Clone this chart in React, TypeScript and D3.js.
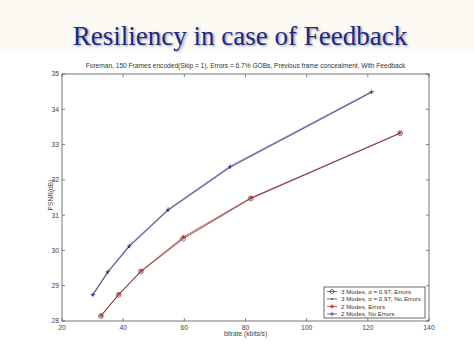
import React from "react";
import * as d3 from "d3";

const xTicks = [20, 40, 60, 80, 100, 120, 140];
const yTicks = [28, 29, 30, 31, 32, 33, 34, 35];

const errBitrate3 = [32.7, 38.5, 45.8, 59.6, 81.7, 130.6];
const errPsnr3 = [28.14, 28.74, 29.4, 30.33, 31.47, 33.32];
const noErrBitrate3 = [30, 34.9, 41.9, 54.6, 74.9, 121.2];
const noErrPsnr3 = [28.73, 29.37, 30.1, 31.13, 32.35, 34.48];
const errBitrate2 = [32.8, 38.6, 45.9, 59.7, 81.8, 130.5];
const errPsnr2 = [28.15, 28.76, 29.42, 30.38, 31.49, 33.33];
const noErrBitrate2 = [30.1, 35.0, 42.0, 54.7, 75.0, 121.3];
const noErrPsnr2 = [28.75, 29.4, 30.13, 31.16, 32.38, 34.5];

const legendLabels = [
  "3 Modes, \u03b1 = 0.97, Errors",
  "3 Modes, \u03b1 = 0.97, No Errors",
  "2 Modes, Errors",
  "2 Modes, No Errors",
];

const L = 62, R = 429, T = 74, B = 321;

export default function App() {
  const x = d3.scaleLinear().domain([20, 140]).range([L, R]);
  const y = d3.scaleLinear().domain([28, 35]).range([B, T]);
  const line = d3
    .line<[number, number]>()
    .x((d) => x(d[0]))
    .y((d) => y(d[1]));
  const pts = (xs: number[], ys: number[]) => xs.map((v, i) => [v, ys[i]] as [number, number]);

  const s3e = pts(errBitrate3, errPsnr3);
  const s3n = pts(noErrBitrate3, noErrPsnr3);
  const s2e = pts(errBitrate2, errPsnr2);
  const s2n = pts(noErrBitrate2, noErrPsnr2);

  const font = "Arial, 'Liberation Sans', sans-serif";
  const plus = (cx: number, cy: number, c: string, k: string) => (
    <g key={k} stroke={c} strokeWidth={0.7}>
      <line x1={cx - 2.3} x2={cx + 2.3} y1={cy} y2={cy} />
      <line x1={cx} x2={cx} y1={cy - 2.3} y2={cy + 2.3} />
    </g>
  );
  const star = (cx: number, cy: number, c: string, k: string) => (
    <g key={k} stroke={c} strokeWidth={0.7}>
      <line x1={cx - 2.3} x2={cx + 2.3} y1={cy} y2={cy} />
      <line x1={cx} x2={cx} y1={cy - 2.3} y2={cy + 2.3} />
      <line x1={cx - 1.6} x2={cx + 1.6} y1={cy - 1.6} y2={cy + 1.6} />
      <line x1={cx - 1.6} x2={cx + 1.6} y1={cy + 1.6} y2={cy - 1.6} />
    </g>
  );

  const legX = 324, legY = 287, legW = 101, legH = 31;
  const rowY = [291.5, 299, 306.5, 314];

  return (
    <svg width={474} height={355} style={{ position: "absolute", left: 0, top: 0 }}>
      <defs>
        <filter id="blur" x="-5%" y="-20%" width="110%" height="140%">
          <feGaussianBlur stdDeviation={0.8} />
        </filter>
      </defs>
      <rect x={0} y={0} width={474} height={355} fill="#ffffff" />
      <rect x={0} y={0} width={474} height={52} fill="#fcfaf2" />
      <text x={241.5} y={46} textAnchor="middle" fontFamily="'Liberation Serif', 'Times New Roman', serif" fontSize={27} fill="#9a9aa8" filter="url(#blur)">
        Resiliency in case of Feedback
      </text>
      <text x={240} y={44.5} textAnchor="middle" fontFamily="'Liberation Serif', 'Times New Roman', serif" fontSize={27} fill="#1b2a86">
        Resiliency in case of Feedback
      </text>

      <text x={(L + R) / 2} y={68} textAnchor="middle" fontFamily={font} fontSize={6.6} fill="#333">
        Foreman, 150 Frames encoded(Skip = 1), Errors = 6.7% GOBs, Previous frame concealment, With Feedback
      </text>

      <rect x={L} y={T} width={R - L} height={B - T} fill="none" stroke="#555" strokeWidth={0.8} />
      {xTicks.map((t) => (
        <g key={"x" + t}>
          <line x1={x(t)} x2={x(t)} y1={B} y2={B - 3} stroke="#555" strokeWidth={0.7} />
          <line x1={x(t)} x2={x(t)} y1={T} y2={T + 3} stroke="#555" strokeWidth={0.7} />
          <text x={x(t)} y={B + 9} textAnchor="middle" fontFamily={font} fontSize={6.8} fill="#444">
            {t}
          </text>
        </g>
      ))}
      {yTicks.map((t) => (
        <g key={"y" + t}>
          <line x1={L} x2={L + 3} y1={y(t)} y2={y(t)} stroke="#555" strokeWidth={0.7} />
          <line x1={R} x2={R - 3} y1={y(t)} y2={y(t)} stroke="#555" strokeWidth={0.7} />
          <text x={L - 3} y={y(t) + 2.4} textAnchor="end" fontFamily={font} fontSize={6.8} fill="#444">
            {t}
          </text>
        </g>
      ))}
      <text x={(L + R) / 2} y={336} textAnchor="middle" fontFamily={font} fontSize={6.6} fill="#444">
        bitrate (kbits/s)
      </text>
      <text transform={`translate(53,195) rotate(-90)`} textAnchor="middle" fontFamily={font} fontSize={6.6} fill="#444">
        PSNR(dB)
      </text>

      <path d={line(s2n) || ""} fill="none" stroke="#9a9ac4" strokeWidth={1.4} />
      <path d={line(s3n) || ""} fill="none" stroke="#2a2a70" strokeWidth={0.7} />
      <path d={line(s2e) || ""} fill="none" stroke="#d88080" strokeWidth={1.2} />
      <path d={line(s3e) || ""} fill="none" stroke="#401818" strokeWidth={0.7} />

      {s3e.map((d, i) => (
        <circle key={"c" + i} cx={x(d[0])} cy={y(d[1])} r={2.4} fill="none" stroke="#555" strokeWidth={0.7} />
      ))}
      {s2e.map((d, i) => star(x(d[0]), y(d[1]), "#c02020", "s" + i))}
      {s3n.map((d, i) => (
        <circle key={"d" + i} cx={x(d[0])} cy={y(d[1])} r={0.9} fill="#111" />
      ))}
      {s2n.map((d, i) => plus(x(d[0]), y(d[1]), "#3030a0", "p" + i))}

      <rect x={legX} y={legY} width={legW} height={legH} fill="#fff" stroke="#444" strokeWidth={0.8} />
      {legendLabels.map((lab, i) => {
        const cy = rowY[i];
        const c = ["#333", "#222", "#c02020", "#3030a0"][i];
        return (
          <g key={"l" + i}>
            <line x1={327} x2={337} y1={cy} y2={cy} stroke={c} strokeWidth={0.7} />
            {i === 0 && <circle cx={332} cy={cy} r={2} fill="none" stroke="#333" strokeWidth={0.7} />}
            {i === 1 && <circle cx={332} cy={cy} r={0.8} fill="#111" />}
            {i === 2 && star(332, cy, "#c02020", "ls")}
            {i === 3 && plus(332, cy, "#3030a0", "lp")}
            <text x={341} y={cy + 2.2} fontFamily={font} fontSize={6.2} fill="#333">
              {lab}
            </text>
          </g>
        );
      })}
    </svg>
  );
}
